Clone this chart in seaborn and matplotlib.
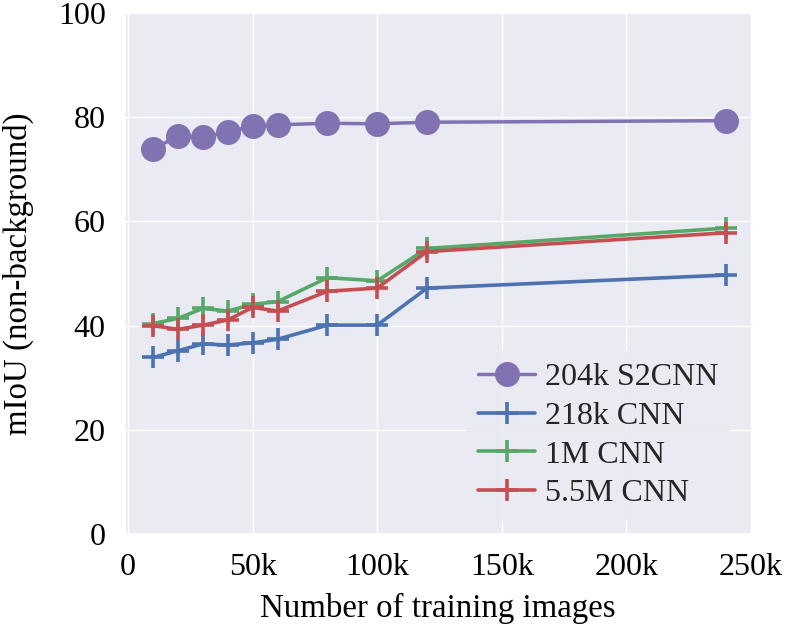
import matplotlib
matplotlib.use("Agg")
import matplotlib.pyplot as plt
import seaborn as sns
import pandas as pd

# ---- data ----
train_images = [10000, 20000, 30000, 40000, 50000, 60000, 80000, 100000, 120000, 240000]
s2cnn_204k = [73.8, 76.4, 76.1, 77.2, 78.2, 78.5, 78.8, 78.7, 79.0, 79.3]
cnn_218k = [33.9, 35.2, 36.5, 36.3, 36.7, 37.4, 40.1, 40.1, 47.2, 49.7]
cnn_1m = [40.4, 41.4, 43.3, 42.8, 44.1, 44.6, 49.2, 48.6, 54.8, 58.7]
cnn_5_5m = [40.0, 39.3, 40.1, 41.1, 43.5, 42.8, 46.6, 47.2, 54.2, 57.8]
series_names = ["204k S2CNN", "218k CNN", "1M CNN", "5.5M CNN"]
x_ticks = [0, 50000, 100000, 150000, 200000, 250000]
x_tick_labels = ["0", "50k", "100k", "150k", "200k", "250k"]
y_ticks = [0, 20, 40, 60, 80, 100]

colors = ["#8172B2", "#4C72B0", "#55A868", "#C44E52"]

sns.set_theme(style="darkgrid")
plt.rcParams["font.family"] = ["Liberation Serif", "DejaVu Serif"]

fig = plt.figure(figsize=(7.85, 6.34), dpi=100)
ax = fig.add_axes([124.5 / 785, 1 - 534.3 / 634, (751.7 - 124.5) / 785, (534.3 - 12.7) / 634])

values = [s2cnn_204k, cnn_218k, cnn_1m, cnn_5_5m]
for i, (name, vals) in enumerate(zip(series_names, values)):
    df = pd.DataFrame({"images": train_images, "miou": vals})
    if i == 0:
        sns.lineplot(data=df, x="images", y="miou", ax=ax, color=colors[i], label=name,
                     marker="o", markersize=18, linewidth=2.5, markeredgewidth=0,
                     markeredgecolor=colors[i])
    else:
        sns.lineplot(data=df, x="images", y="miou", ax=ax, color=colors[i], label=name,
                     marker="+", markersize=16, linewidth=2.6, markeredgewidth=2.6,
                     markeredgecolor=colors[i])

ax.set_xlim(-1500, 250400)
ax.set_ylim(0, 100)
ax.set_xticks(x_ticks)
ax.set_xticklabels(x_tick_labels)
ax.set_yticks(y_ticks)
ax.tick_params(axis="both", which="major", length=8.5, width=1, color="#262626",
               direction="out", labelsize=23, pad=5, labelcolor="black")
ax.set_xlabel("Number of training images", fontsize=23.7, color="black", labelpad=8)
ax.set_ylabel("mIoU (non-background)", fontsize=23.7, color="black", labelpad=17)

leg = ax.legend(loc="lower right", bbox_to_anchor=(0.967, 0.0255), fontsize=23,
                frameon=True, facecolor="#EAEAF2", edgecolor="none", framealpha=0.85,
                handlelength=1.8, labelspacing=0.29, handletextpad=0.3, borderaxespad=0.0)

fig.savefig("out.png", dpi=100)
